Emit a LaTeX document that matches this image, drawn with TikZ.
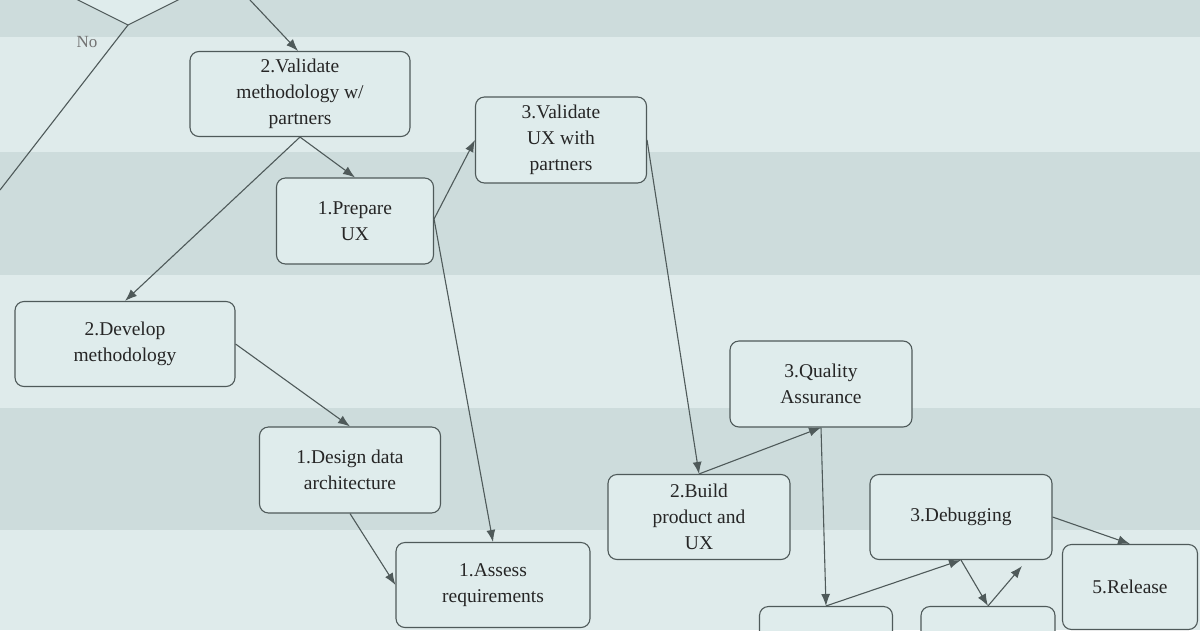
\documentclass[tikz,border=0pt]{standalone}
\usepackage{fontspec}
\setmainfont{Liberation Serif}
\usetikzlibrary{arrows.meta}
\definecolor{bandD}{HTML}{CDDCDC}
\definecolor{bandL}{HTML}{DFEBEB}
\definecolor{boxF}{HTML}{DFECEC}
\definecolor{ln}{HTML}{4F5A5A}
\begin{document}
\begin{tikzpicture}[x=1pt,y=-1pt,
  box/.style={draw=ln,fill=boxF,rounded corners=9pt,line width=1.1pt,align=center,
    font=\fontsize{19.5}{26}\selectfont,text=black!85,inner sep=0pt},
  arr/.style={draw=ln,line width=1.1pt,-{Latex[length=12pt,width=9pt]}},
  ln/.style={draw=ln,line width=1.1pt}]
\useasboundingbox (0,0) rectangle (1200,630);
\clip (0,0) rectangle (1200,630);
\fill[bandD] (0,0) rectangle (1200,37);
\fill[bandL] (0,37) rectangle (1200,152);
\fill[bandD] (0,152) rectangle (1200,275);
\fill[bandL] (0,275) rectangle (1200,408);
\fill[bandD] (0,408) rectangle (1200,530);
\fill[bandL] (0,530) rectangle (1200,630);
% diamond
\draw[ln,fill=boxF] (50,-14) -- (128,25) coordinate (dtip) -- (206,-14);
\coordinate (dr) at (250,0);
\coordinate (nofree) at (0,190);
\node[box,minimum width=220pt,minimum height=85pt] (vm) at (300,94) {2.Validate\\methodology w/\\partners};
\node[box,minimum width=157pt,minimum height=86pt] (pux) at (355,221) {1.Prepare\\UX};
\node[box,minimum width=171pt,minimum height=86pt] (vux) at (561,140) {3.Validate\\UX with\\partners};
\node[box,minimum width=220pt,minimum height=85pt] (dm) at (125,344) {2.Develop\\methodology};
\node[box,minimum width=181pt,minimum height=86pt] (dd) at (350,470) {1.Design data\\architecture};
\node[box,minimum width=194pt,minimum height=85pt] (ar) at (493,585) {1.Assess\\requirements};
\node[box,minimum width=182pt,minimum height=86pt] (qa) at (821,384) {3.Quality\\Assurance};
\node[box,minimum width=182pt,minimum height=85pt] (bp) at (699,517) {2.Build\\product and\\UX};
\node[box,minimum width=182pt,minimum height=85pt] (db) at (961,517) {3.Debugging};
\node[box,minimum width=135pt,minimum height=85pt] (rl) at (1130,587) {5.Release};
\node[box,minimum width=133pt,minimum height=85pt] (al) at (826,649) {4.Alpha};
\node[box,minimum width=134pt,minimum height=85pt] (bt) at (988,649) {4.Beta};
\coordinate (btfree) at (1022,566);
% connectors
\draw[arr] (dr) -- (298,51);
\draw[ln] (dtip) -- (nofree);
\node[font=\fontsize{17}{18}\selectfont,text=black!55] (no) at (87,42) {No};
\draw[arr] (vm.south) -- (dm.north);
\draw[arr] (vm.south) -- (pux.north);
\draw[arr] ([yshift=2pt]pux.east) -- (vux.west);
\draw[arr] ([yshift=2pt]pux.east) -- (ar.north);
\draw[arr] (vux.east) -- (bp.north);
\draw[arr] (dm.east) -- (dd.north);
\draw[arr] (dd.south) -- (ar.west);
\draw[arr] (bp.north) -- (qa.south);
\draw[arr] (qa.south) -- (al.north);
\draw[arr] (al.north) -- (db.south);
\draw[arr] (db.south) -- (bt.north);
\draw[arr] (bt.north) -- (btfree);
\draw[arr] (db.east) -- (rl.north);
\end{tikzpicture}
\end{document}
